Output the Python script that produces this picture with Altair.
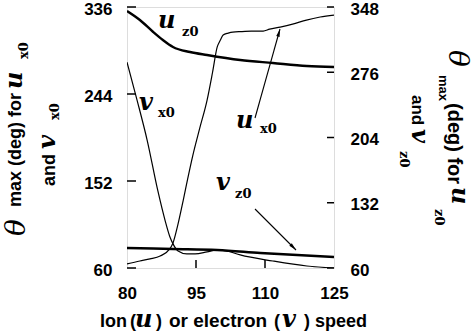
import altair as alt
import pandas as pd

# ---------------- data ----------------
ux0_x = [80, 82.8, 85.0, 87.2, 89.3, 90.0, 91.0, 92.2, 93.2, 94.3, 95.8, 97.4, 98.6, 99.6,
         100.3, 100.9, 102.0, 103.0, 105.0, 107.0, 109.6, 111.0, 113.3, 116.0, 119.0, 122.0, 125.0]
ux0_y = [64.3, 67.4, 69.6, 72.7, 80.2, 86.5, 104.6, 131.1, 154.5, 178.9, 207.6, 237.3, 267.0, 293.5,
         301.0, 306.3, 308.4, 309.5, 310.0, 310.5, 310.5, 312.6, 314.8, 317.9, 322.2, 325.4, 327.5]

vx0_x = [80, 82.2, 84.4, 86.7, 88.3, 89.4, 90.0, 91.1, 93.0, 94.8, 97.4, 99.6, 101.7, 104.6, 111.7, 119.1, 125]
vx0_y = [277.6, 237.3, 194.8, 141.7, 109.9, 91.9, 85.5, 78.0, 74.9, 74.9, 77.0, 79.1, 78.0, 73.8, 67.4, 62.1, 60.0]

uz0_x = [80, 82.8, 85.7, 87.8, 90.0, 93.7, 97.4, 104.6, 111.7, 119.1, 125]
uz0_y = [343.6, 333.7, 320.4, 311.6, 303.9, 298.3, 295.0, 289.5, 286.2, 282.9, 281.8]

vz0_x = [80, 90, 99.6, 109, 125]
vz0_y = [82.1, 81.0, 79.9, 76.6, 72.1]

x_ticks = [80, 95, 110, 125]
left_ticks = [60, 152, 244, 336]
right_ticks = [60, 132, 204, 276, 348]

# ---------------- layout ----------------
X0, Y0 = 127, 7          # plot origin in the page
W, H = 207, 261
SANS = "Liberation Sans"
SERIF = "DejaVu Serif"

xscale = alt.Scale(domain=[80, 125], nice=False, zero=False)
lscale = alt.Scale(domain=[60, 336], nice=False, zero=False)
rscale = alt.Scale(domain=[60, 348], nice=False, zero=False)

left_df = pd.concat([
    pd.DataFrame({"s": "ux0", "x": ux0_x, "y": ux0_y}),
    pd.DataFrame({"s": "vx0", "x": vx0_x, "y": vx0_y}),
])
right_df = pd.concat([
    pd.DataFrame({"s": "uz0", "x": uz0_x, "y": uz0_y}),
    pd.DataFrame({"s": "vz0", "x": vz0_x, "y": vz0_y}),
])

common = dict(title=None, ticks=False, tickSize=0, domain=False, grid=False,
              labelFont=SANS, labelFontSize=17, labelFontWeight="bold", labelColor="black",
              labelOverlap=False)
xaxis = alt.Axis(values=x_ticks, orient="bottom", labelPadding=17, labelFlush=False, **common)
laxis = alt.Axis(values=left_ticks, orient="left", labelPadding=15, labelOffset=2, **common)
raxis = alt.Axis(values=right_ticks, orient="right", labelPadding=16, labelOffset=2, **common)

X = alt.X("x:Q", scale=xscale, axis=xaxis)

left_lines = alt.Chart(left_df).mark_line(color="black", strokeWidth=1.2, interpolate="monotone",
                                          clip=True).encode(
    x=X, y=alt.Y("y:Q", scale=lscale, axis=laxis), detail="s:N")
left_tk = alt.Chart(pd.DataFrame({"y": left_ticks})).mark_rule(color="black", strokeWidth=1.5).encode(
    y=alt.Y("y:Q", scale=lscale, axis=laxis), x=alt.value(0), x2=alt.value(9))
bottom_tk = alt.Chart(pd.DataFrame({"x": x_ticks[1:3]})).mark_rule(color="black", strokeWidth=1.5).encode(
    x=X, y=alt.value(H), y2=alt.value(H - 8))
left_group = alt.layer(left_lines, left_tk, bottom_tk)

right_lines = alt.Chart(right_df).mark_line(color="black", strokeWidth=2.4, interpolate="monotone",
                                            clip=True).encode(
    x=X, y=alt.Y("y:Q", scale=rscale, axis=raxis), detail="s:N")
right_tk = alt.Chart(pd.DataFrame({"y": right_ticks})).mark_rule(color="black", strokeWidth=1.5).encode(
    y=alt.Y("y:Q", scale=rscale, axis=raxis), x=alt.value(W - 7), x2=alt.value(W))
right_group = alt.layer(right_lines, right_tk)

one = pd.DataFrame({"k": [0]})


def txt(s, x, y, font, size, weight="bold", style="normal", angle=0):
    kw = dict(text=s, font=font, fontSize=size, fontWeight=weight, fontStyle=style,
              align="left", baseline="alphabetic", color="black")
    if angle:
        kw["angle"] = angle
    return alt.Chart(one).mark_text(**kw).encode(x=alt.value(x - X0), y=alt.value(y - Y0))


texts = [
    # left title
    txt("θ", 25, 236, SERIF, 28, "normal", "italic", 270),
    txt("max (deg) for", 21, 207, SANS, 18, angle=270),
    txt("u", 22, 89, SERIF, 24, "bold", "italic", 270),
    txt("x0", 28, 59, SERIF, 13, angle=270),
    txt("and", 55, 186, SANS, 18, angle=270),
    txt("v", 55, 149, SERIF, 24, "bold", "italic", 270),
    txt("x0", 59, 120, SERIF, 13, angle=270),
    # right title
    txt("θ", 449, 50, SERIF, 28, "normal", "italic", 90),
    txt("max", 439, 75, SANS, 13, angle=90),
    txt("(deg) for", 448, 103, SANS, 20, angle=90),
    txt("u", 452, 187, SERIF, 24, "bold", "italic", 90),
    txt("z0", 435, 209, SERIF, 13, angle=90),
    txt("and", 412, 95, SANS, 17, angle=90),
    txt("v", 412, 129, SERIF, 24, "bold", "italic", 90),
    txt("z0", 400, 151, SERIF, 13, angle=90),
    # x title
    txt("Ion", 100, 327, SANS, 18),
    txt("(", 130, 327, SANS, 18),
    txt("u", 135, 327, SERIF, 24, "bold", "italic"),
    txt(")", 156, 327, SANS, 18),
    txt("or electron", 169, 327, SANS, 19),
    txt("(", 274, 327, SANS, 18),
    txt("v", 282, 327, SERIF, 24, "bold", "italic"),
    txt(")", 304, 327, SANS, 18),
    txt("speed", 315, 327, SANS, 18),
    # curve labels
    txt("u", 158, 28, SERIF, 24, "bold", "italic"),
    txt("z0", 182, 36, SERIF, 13),
    txt("v", 139, 110, SERIF, 24, "bold", "italic"),
    txt("x0", 158, 117, SERIF, 13),
    txt("u", 236, 128, SERIF, 24, "bold", "italic"),
    txt("x0", 260, 133, SERIF, 13),
    txt("v", 216, 190, SERIF, 24, "bold", "italic"),
    txt("z0", 235, 198, SERIF, 13),
]

head = "M0,0L0.5,2.2L-0.5,2.2Z"


def arrow(x1, y1, x2, y2, ang):
    line = alt.Chart(one).mark_rule(color="black", strokeWidth=1.1).encode(
        x=alt.value(x1 - X0), y=alt.value(y1 - Y0), x2=alt.value(x2 - X0), y2=alt.value(y2 - Y0))
    tip = alt.Chart(one).mark_point(shape=head, filled=True, color="black", opacity=1, size=49,
                                    angle=ang, strokeWidth=0).encode(
        x=alt.value(x2 - X0), y=alt.value(y2 - Y0))
    return [line, tip]


arrows = arrow(255, 118, 280, 29, 15.7) + arrow(255, 209, 296, 250, 135)

annot = alt.layer(*texts, *arrows)

chart = alt.layer(left_group, right_group, annot).resolve_scale(y="independent").properties(
    width=W, height=H,
    autosize=alt.AutoSizeParams(type="none"),
    padding={"left": X0, "top": Y0, "right": 474 - X0 - W, "bottom": 335 - Y0 - H},
).configure_view(stroke="black", strokeWidth=2).configure(background="white")

chart.save("out.html", embed_options={"renderer": "svg", "actions": False})
